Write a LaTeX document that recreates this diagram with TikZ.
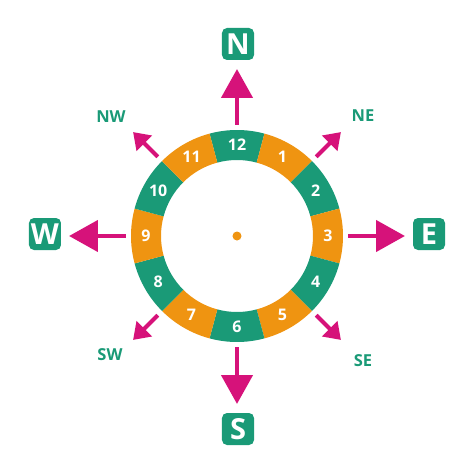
\documentclass[tikz,border=0pt]{standalone}
\usepackage{fontspec}
\setmainfont{Open Sans}
\usetikzlibrary{arrows.meta}
\definecolor{cgreen}{HTML}{1A9A77}
\definecolor{corange}{HTML}{EF9411}
\definecolor{cmag}{HTML}{D6127A}
\tikzset{
  bigarrow/.style={draw=cmag, line width=4.5pt, -{Triangle[width=31pt,length=29pt]}},
  smallarrow/.style={draw=cmag, line width=4pt, -{Triangle[width=21pt,length=16pt]}},
  mainlabel/.style={fill=cgreen, text=white, rounded corners=5pt, minimum width=32pt, minimum height=32pt, inner sep=0pt, font=\fontsize{29}{29}\selectfont\bfseries},
  sublabel/.style={text=cgreen, inner sep=0pt, font=\fontsize{16.5}{16.5}\selectfont\bfseries},
  digit/.style={text=white, inner sep=0pt, font=\fontsize{16}{16}\selectfont\bfseries}
}
\begin{document}
\begin{tikzpicture}[x=1pt,y=1pt]
\useasboundingbox (-237,-238) rectangle (237,236);
\foreach \i in {0,...,11} {
  \pgfmathsetmacro{\a}{90-30*\i}
  \pgfmathtruncatemacro{\odd}{mod(\i,2)}
  \ifnum\odd=1 \def\col{corange}\else\def\col{cgreen}\fi
  \fill[\col] (\a+15:106) arc[start angle=\a+15, end angle=\a-15, radius=106] -- (\a-15:76) arc[start angle=\a-15, end angle=\a+15, radius=76] -- cycle;
}
\foreach \i/\n in {0/12,1/1,2/2,3/3,4/4,5/5,6/6,7/7,8/8,9/9,10/10,11/11} {
  \node[digit] (d\n) at ({90-30*\i}:91) {\n};
}
\fill[corange] (0,0) circle (4.5);
\coordinate (c) at (0,0);
% main arrows
\coordinate (nS) at (90:111); \coordinate (nT) at (90:167);
\coordinate (sS) at (-90:111); \coordinate (sT) at (-90:168);
\coordinate (eS) at (0:111); \coordinate (eT) at (0:168);
\coordinate (wS) at (180:111); \coordinate (wT) at (180:168);
\draw[bigarrow] (nS) -- (nT);
\draw[bigarrow] (sS) -- (sT);
\draw[bigarrow] (eS) -- (eT);
\draw[bigarrow] (wS) -- (wT);
\node[mainlabel] (N) at (1,192) {N};
\node[mainlabel] (S) at (1,-193) {S};
\node[mainlabel] (E) at (192,2) {E};
\node[mainlabel] (W) at (-192,2) {W};
% diagonal arrows
\foreach \ang/\nm in {45/ne,135/nw,225/sw,315/se} {
  \coordinate (\nm S) at (\ang:112);
  \coordinate (\nm T) at (\ang:147);
  \draw[smallarrow] (\nm S) -- (\nm T);
}
\node[sublabel] (NE) at (126,120) {NE};
\node[sublabel] (NW) at (-126,119) {NW};
\node[sublabel] (SW) at (-127,-119) {SW};
\node[sublabel] (SE) at (126,-125) {SE};
\end{tikzpicture}
\end{document}
